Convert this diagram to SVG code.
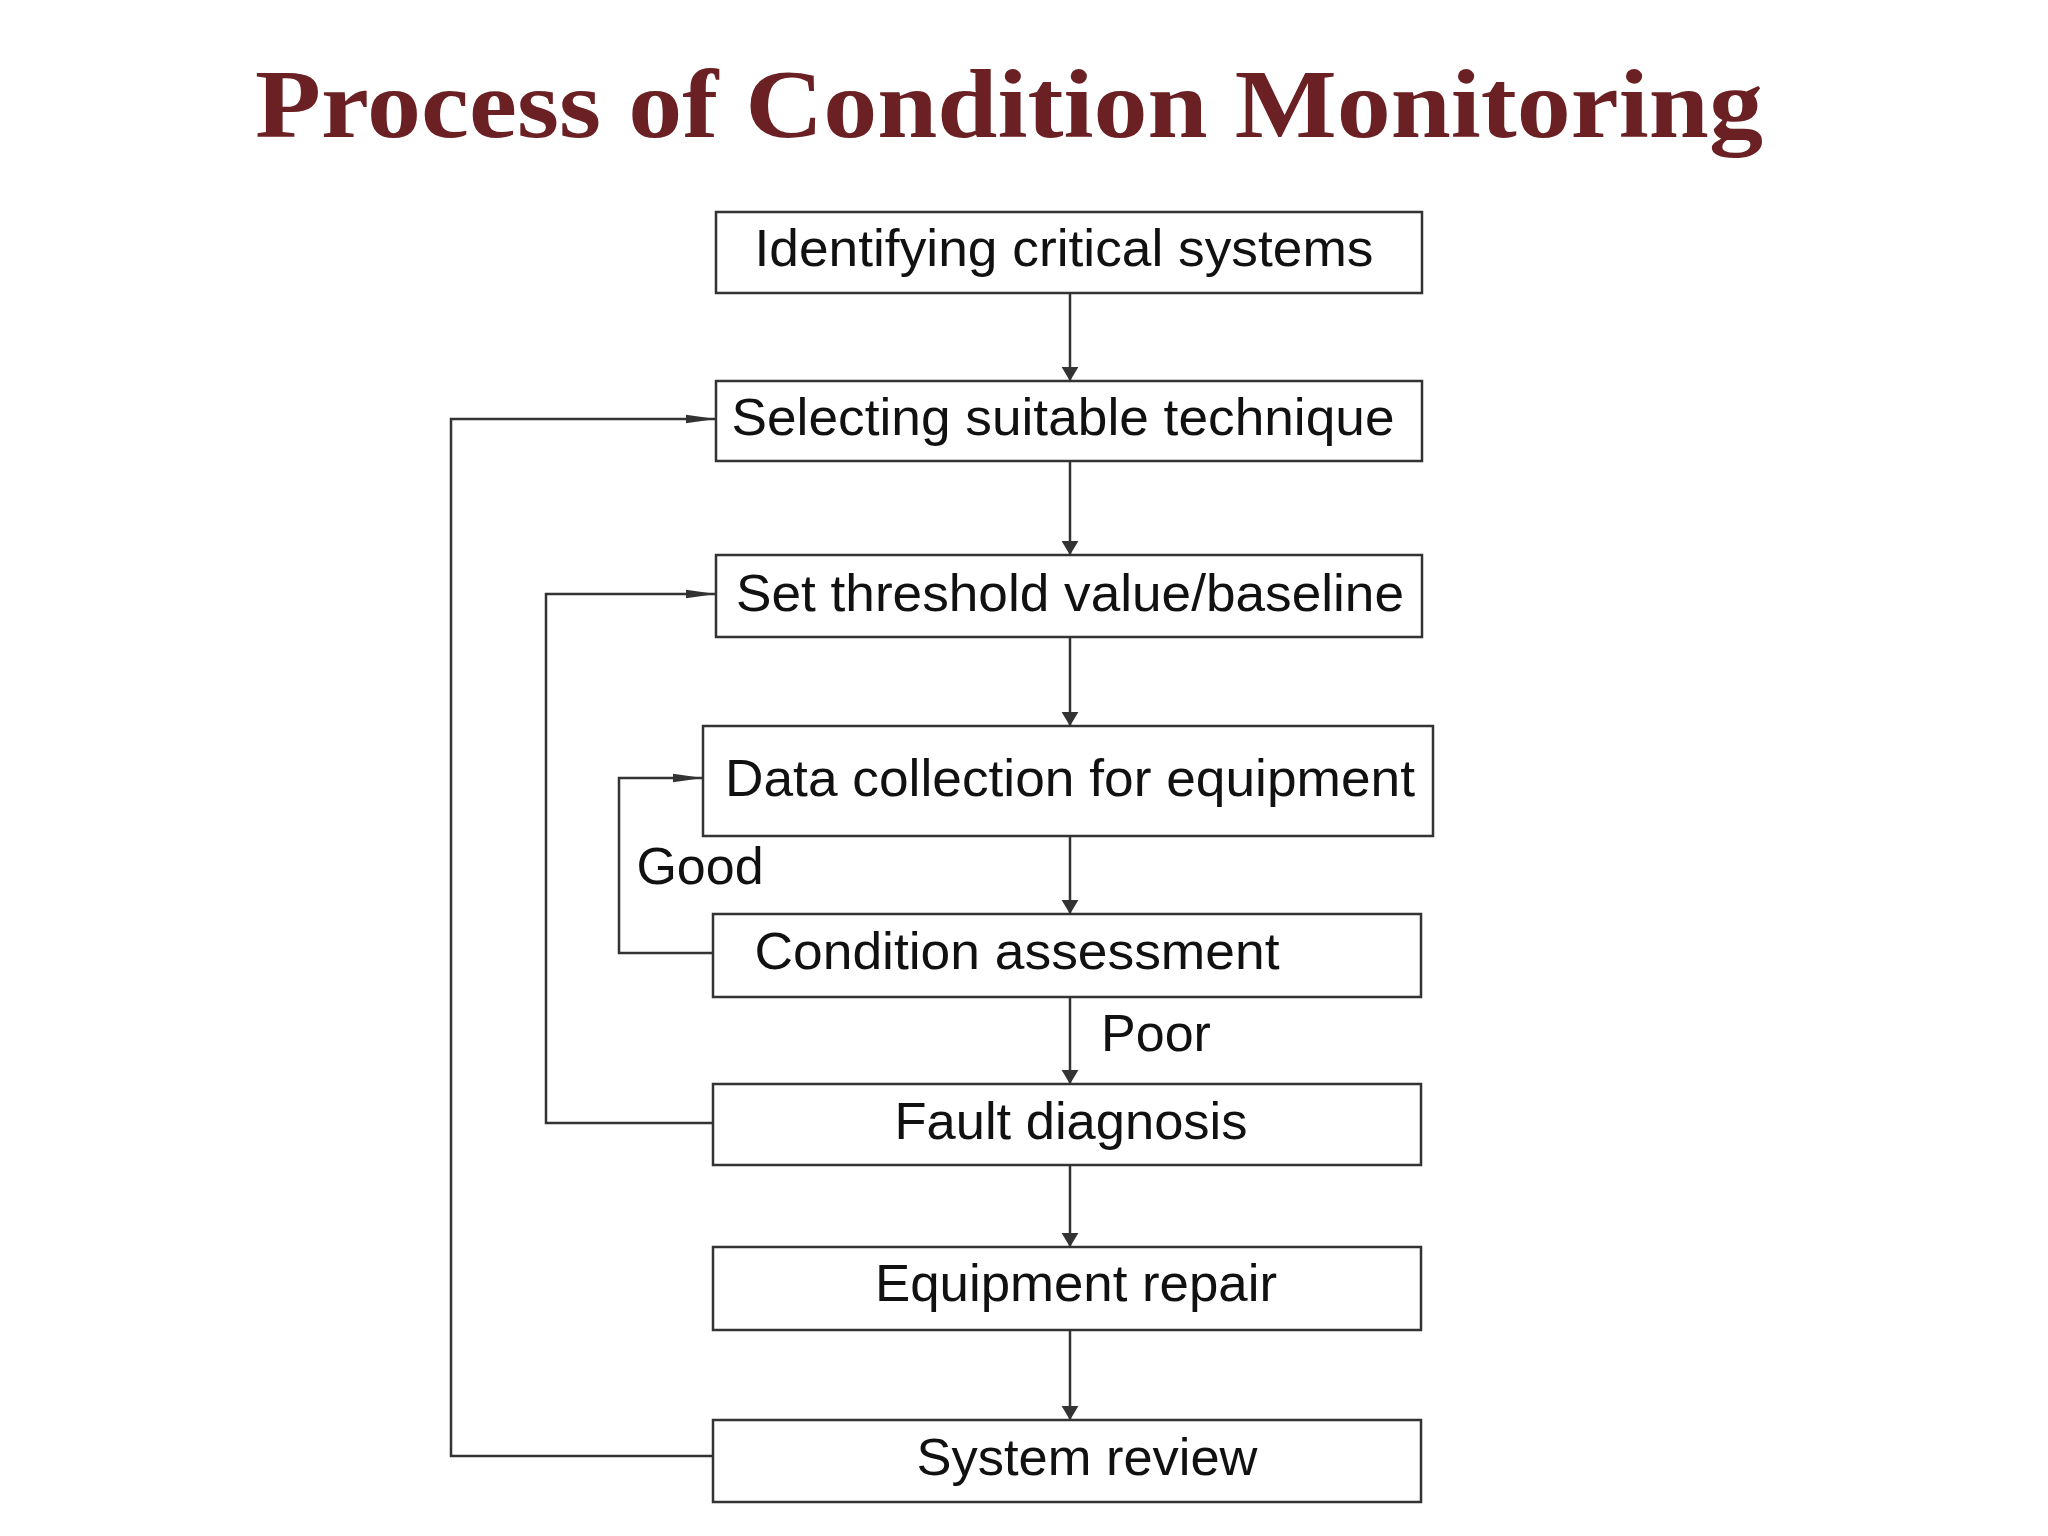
<svg xmlns="http://www.w3.org/2000/svg" width="2048" height="1536" viewBox="0 0 2048 1536">
<defs>
<marker id="ah" viewBox="0 0 10 10" refX="10" refY="5" markerWidth="14" markerHeight="28" markerUnits="userSpaceOnUse" orient="auto" preserveAspectRatio="none"><path d="M0,2 L10,5 L0,8 Z" fill="#333"/></marker>
<marker id="ahh" viewBox="0 0 10 10" refX="10" refY="5" markerWidth="30" markerHeight="14" markerUnits="userSpaceOnUse" orient="auto" preserveAspectRatio="none"><path d="M0,2 L10,5 L0,8 Z" fill="#333"/></marker>
</defs>
<style>
.b{fill:#fff;stroke:#333;stroke-width:2.5}
.t{font-family:"Liberation Sans",Arial,sans-serif;font-size:52px;fill:#111;text-anchor:middle}
.c{fill:none;stroke:#333;stroke-width:2.5}
</style>
<rect width="2048" height="1536" fill="#fff"/>
<text x="1009" y="137" font-family="Liberation Serif,serif" font-weight="bold" font-size="98" fill="#6b2024" text-anchor="middle" textLength="1508" lengthAdjust="spacingAndGlyphs">Process of Condition Monitoring</text>
<g id="n1"><rect class="b" x="716" y="212" width="706" height="81"/><text class="t" x="1064" y="266" textLength="619" lengthAdjust="spacingAndGlyphs">Identifying critical systems</text></g>
<g id="n2"><rect class="b" x="716" y="381" width="706" height="80"/><text class="t" x="1063" y="435" textLength="663" lengthAdjust="spacingAndGlyphs">Selecting suitable technique</text></g>
<g id="n3"><rect class="b" x="716" y="555" width="706" height="82"/><text class="t" x="1070" y="611" textLength="668" lengthAdjust="spacingAndGlyphs">Set threshold value/baseline</text></g>
<g id="n4"><rect class="b" x="703" y="726" width="730" height="110"/><text class="t" x="1070" y="796" textLength="690" lengthAdjust="spacingAndGlyphs">Data collection for equipment</text></g>
<g id="n5"><rect class="b" x="713" y="914" width="708" height="83"/><text class="t" x="1017" y="969" textLength="525" lengthAdjust="spacingAndGlyphs">Condition assessment</text></g>
<g id="n6"><rect class="b" x="713" y="1084" width="708" height="81"/><text class="t" x="1071" y="1139" textLength="353" lengthAdjust="spacingAndGlyphs">Fault diagnosis</text></g>
<g id="n7"><rect class="b" x="713" y="1247" width="708" height="83"/><text class="t" x="1076" y="1301" textLength="402" lengthAdjust="spacingAndGlyphs">Equipment repair</text></g>
<g id="n8"><rect class="b" x="713" y="1420" width="708" height="82"/><text class="t" x="1087" y="1475" textLength="341" lengthAdjust="spacingAndGlyphs">System review</text></g>
<g id="connectors">
<line class="c" x1="1070" y1="293" x2="1070" y2="381" marker-end="url(#ah)"/>
<line class="c" x1="1070" y1="461" x2="1070" y2="555" marker-end="url(#ah)"/>
<line class="c" x1="1070" y1="637" x2="1070" y2="726" marker-end="url(#ah)"/>
<line class="c" x1="1070" y1="836" x2="1070" y2="914" marker-end="url(#ah)"/>
<line class="c" x1="1070" y1="997" x2="1070" y2="1084" marker-end="url(#ah)"/>
<line class="c" x1="1070" y1="1165" x2="1070" y2="1247" marker-end="url(#ah)"/>
<line class="c" x1="1070" y1="1330" x2="1070" y2="1420" marker-end="url(#ah)"/>
<polyline class="c" points="713,1456 451,1456 451,419 716,419" marker-end="url(#ahh)"/>
<polyline class="c" points="713,1123 546,1123 546,594 716,594" marker-end="url(#ahh)"/>
<polyline class="c" points="713,953 619,953 619,778 703,778" marker-end="url(#ahh)"/>
<text class="t" x="700" y="884">Good</text>
<text class="t" x="1156" y="1051">Poor</text>
</g>
</svg>
